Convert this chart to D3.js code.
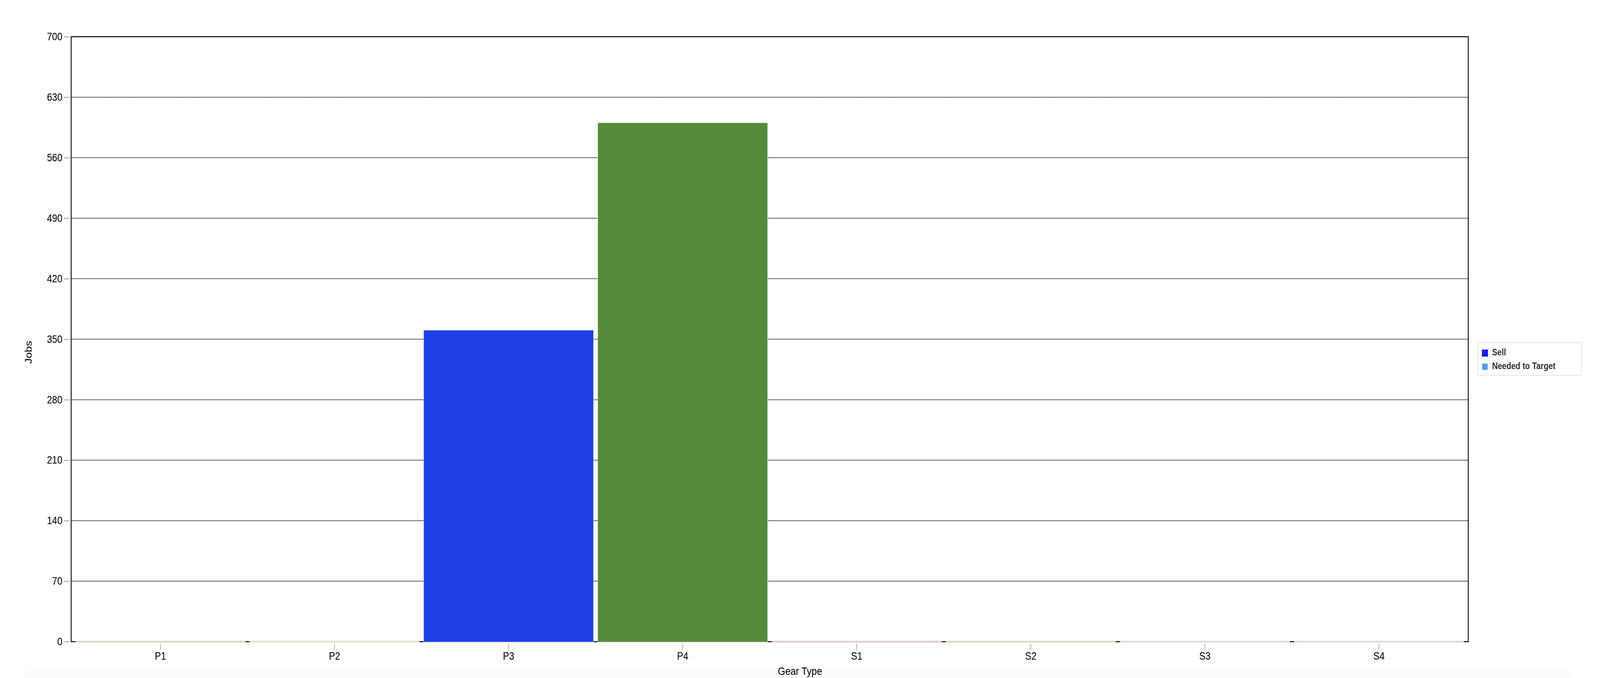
<!DOCTYPE html>
<html>
<head>
<meta charset="utf-8">
<script src="https://cdn.jsdelivr.net/npm/d3@7"></script>
<style>
    html, body { margin: 0; padding: 0; background: #fff; overflow: hidden; }
    #chart_svg { display: block; width: 100vw; height: 100vh; }
    text { font-family: "Liberation Sans", Arial, sans-serif; }
</style>
</head>
<body>
<svg id="chart_svg"></svg>
<script>
const categories = ["P1", "P2", "P3", "P4", "S1", "S2", "S3", "S4"];
const jobs = [0, 0, 360, 600, 0, 0, 0, 0];
const barColors = ["#f5e1c4", "#fff8cc", "#1e40e4", "#558b3b", "#f5d0ee", "#f8e0c6", "#eeeeee", "#eeeeee"];
const yTicks = [0, 70, 140, 210, 280, 350, 420, 490, 560, 630, 700];
const legendLabels = ["Sell", "Needed to Target"];
const legendColors = ["#1a1af0", "#559bf5"];

function drawChart() {
    // drawing is laid out on a 4700x1736 canvas and stretched to the window
    const width = 4700, height = 1736;
    const left = 209, right = 4313, top = 94, bottom = 1643;

    const svg = d3.select("#chart_svg")
        .attr("viewBox", `0 0 ${width} ${height}`)
        .attr("preserveAspectRatio", "none");

    svg.selectAll("*").remove();

    // faint container shadow at the bottom
    svg.append("rect")
        .attr("x", 60).attr("y", 1712)
        .attr("width", 4570).attr("height", 80)
        .attr("rx", 40)
        .style("fill", "#fcfcfc");

    const x = d3.scaleBand()
        .domain(categories)
        .range([left, right])
        .paddingInner(0.024)
        .paddingOuter(0.025);

    const y = d3.scaleLinear()
        .domain([0, 700])
        .range([bottom, top]);

    // dotted grid
    svg.selectAll(".grid")
        .data(yTicks.filter(t => t > 0 && t < 700))
        .enter().append("line")
        .attr("class", "grid")
        .attr("x1", left).attr("x2", right)
        .attr("y1", d => y(d)).attr("y2", d => y(d))
        .style("stroke", "#000")
        .style("stroke-width", 2)
        .style("stroke-dasharray", "2,1.2");

    // y axis ticks + labels
    const yAxis = svg.append("g")
        .attr("transform", `translate(${left - 5},0)`)
        .call(d3.axisLeft(y).tickValues(yTicks).tickSize(16).tickPadding(5));
    yAxis.select(".domain").remove();
    yAxis.selectAll("line").style("stroke", "#999").style("stroke-width", 2);
    yAxis.selectAll("text").style("font-size", "27px").style("fill", "#000")
        .style("font-family", "'Liberation Sans', Arial, sans-serif");

    // x axis ticks + labels
    const xAxis = svg.append("g")
        .attr("transform", `translate(0,${bottom + 5})`)
        .call(d3.axisBottom(x).tickSize(16).tickPadding(6));
    xAxis.select(".domain").remove();
    xAxis.selectAll("line").style("stroke", "#aaa").style("stroke-width", 2);
    xAxis.selectAll("text").style("font-size", "27px").style("fill", "#000")
        .style("font-family", "'Liberation Sans', Arial, sans-serif");

    // frame
    svg.append("rect")
        .attr("x", left).attr("y", top)
        .attr("width", right - left).attr("height", bottom - top)
        .style("fill", "none")
        .style("stroke", "#000")
        .style("stroke-width", 2.5);

    // bars
    svg.selectAll(".bar")
        .data(categories.map((c, i) => ({ cat: c, value: jobs[i], color: barColors[i] })))
        .enter().append("rect")
        .attr("class", "bar")
        .attr("x", d => x(d.cat))
        .attr("width", x.bandwidth())
        .attr("y", d => y(d.value) - 1)
        .attr("height", d => y(0) - y(d.value) + 2)
        .style("fill", d => d.color)
        .style("stroke", d => d.value > 0 ? "#fff" : "none")
        .style("stroke-opacity", 0.45)
        .style("stroke-width", 2);

    // axis titles
    svg.append("text")
        .attr("transform", "translate(93,902) rotate(-90)")
        .attr("text-anchor", "middle")
        .style("font-size", "28px")
        .text("Jobs");

    svg.append("text")
        .attr("x", 2350).attr("y", 1728)
        .attr("text-anchor", "middle")
        .style("font-size", "28px")
        .text("Gear Type");

    // legend
    const legend = svg.append("g").attr("transform", "translate(4342,877)");
    legend.append("rect")
        .attr("width", 304).attr("height", 84)
        .style("fill", "#fff")
        .style("stroke", "#ddd")
        .style("stroke-width", 1.5);

    const items = legend.selectAll(".item")
        .data(legendLabels)
        .enter().append("g")
        .attr("class", "item")
        .attr("transform", (d, i) => `translate(0,${i * 35})`);

    items.append("rect")
        .attr("x", (d, i) => 11 + i)
        .attr("y", (d, i) => 18 + i)
        .attr("width", (d, i) => 18 - i * 2)
        .attr("height", (d, i) => 18 - i * 2)
        .style("fill", (d, i) => legendColors[i]);

    items.append("text")
        .attr("x", 41).attr("y", 33)
        .style("font-size", "23px")
        .style("font-weight", "bold")
        .style("fill", "#333")
        .text(d => d);
}

drawChart();
</script>
</body>
</html>
